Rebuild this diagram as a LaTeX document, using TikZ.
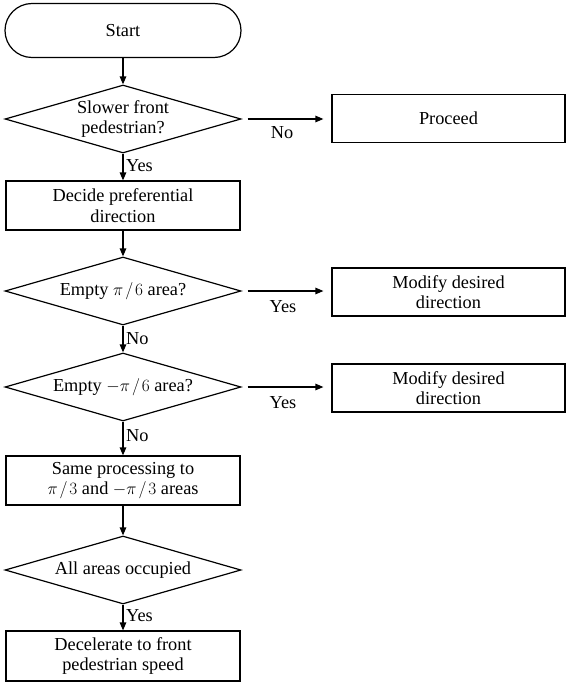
\documentclass[tikz,border=0pt]{standalone}
\usepackage{fontspec}
\setmainfont{Liberation Serif}
\usetikzlibrary{shapes.geometric,arrows.meta}
\newcommand{\piover}[1]{\pi\mkern2mu/\mkern2mu#1}
\begin{document}
\begin{tikzpicture}[x=1pt,y=-1pt,
  every node/.style={font=\fontsize{18.3}{20.5}\selectfont},
  flowline/.style={line width=1.2pt,-{Triangle[length=8pt,width=6.5pt]}},
  term/.style={draw,line width=1.2pt,rounded corners=27pt,minimum width=236pt,minimum height=54pt,inner sep=0pt},
  procbox/.style={draw,line width=1.2pt,minimum width=234pt,minimum height=49pt,inner sep=0pt,align=center},
  sidebox/.style={draw,line width=1.2pt,minimum width=233pt,minimum height=48pt,inner sep=0pt,align=center},
  decis/.style={draw,diamond,line width=1.2pt,minimum width=236pt,minimum height=68pt,inner sep=0pt},
  lbl/.style={inner sep=0pt}
]
\useasboundingbox (0,0) rectangle (571,685);
\node[term] (start) at (123,30.5) {Start};
\node[decis,label={[align=center]center:Slower front\\pedestrian?}] (d1) at (123,119) {};
\node[sidebox] (proceed) at (448.5,118.5) {Proceed};
\node[procbox] (b2) at (123,205.5) {Decide preferential\\direction};
\node[decis,label={center:Empty $\piover{6}$ area?}] (d3) at (123,291) {};
\node[sidebox] (m1) at (448.5,292) {Modify desired\\direction};
\node[decis,label={center:Empty $-\piover{6}$ area?}] (d4) at (123,387) {};
\node[sidebox] (m2) at (448.5,388) {Modify desired\\direction};
\node[procbox] (b5) at (123,480.5) {Same processing to\\$\piover{3}$ and $-\piover{3}$ areas};
\node[decis,label={center:All areas occupied}] (d6) at (123,570) {};
\node[procbox,minimum height=50pt] (b7) at (123,656) {Decelerate to front\\pedestrian speed};

\draw[flowline] (start) -- (d1);
\draw[flowline] (d1) -- (b2);
\draw[flowline] (b2) -- (d3);
\draw[flowline] (d3) -- (d4);
\draw[flowline] (d4) -- (b5);
\draw[flowline] (b5) -- (d6);
\draw[flowline] (d6) -- (b7);
\draw[flowline,shorten <=6pt,shorten >=8pt] (d1.east) -- (proceed.west |- d1.east);
\draw[flowline,shorten <=6pt,shorten >=8pt] (d3.east) -- (m1.west |- d3.east);
\draw[flowline,shorten <=6pt,shorten >=8pt] (d4.east) -- (m2.west |- d4.east);

\node[lbl] (lno1) at (282,133) {No};
\node[lbl] (lyes3) at (283,307) {Yes};
\node[lbl] (lyes4) at (283,403) {Yes};
\node[lbl,anchor=west] (lyes1) at (126,166) {Yes};
\node[lbl,anchor=west] (lno3) at (126,339) {No};
\node[lbl,anchor=west] (lno4) at (126,436) {No};
\node[lbl,anchor=west] (lyes6) at (126,616) {Yes};
\end{tikzpicture}
\end{document}
